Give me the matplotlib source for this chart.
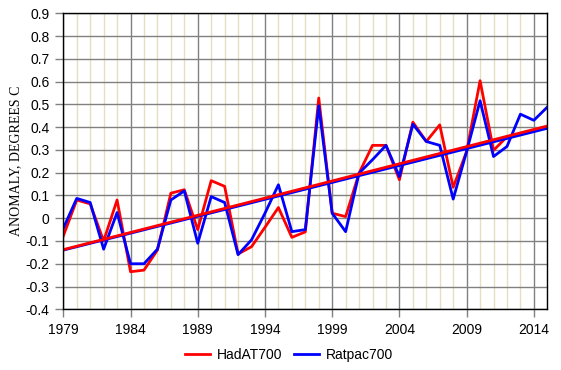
import numpy as np
import matplotlib
matplotlib.use("Agg")
import matplotlib.pyplot as plt
from matplotlib.ticker import MultipleLocator, FixedLocator, FuncFormatter

# anomaly values
years_had = list(range(1979, 2013))
hadat700 = [-0.078, 0.08, 0.063, -0.10, 0.08, -0.235, -0.228, -0.14, 0.11, 0.125,
            -0.05, 0.165, 0.14, -0.157, -0.125, -0.04, 0.047, -0.084, -0.06, 0.528,
            0.022, 0.007, 0.198, 0.32, 0.32, 0.169, 0.422, 0.337, 0.41, 0.136,
            0.293, 0.604, 0.298, 0.358]

years_rat = list(range(1979, 2016))
ratpac700 = [-0.044, 0.087, 0.069, -0.136, 0.025, -0.2, -0.2, -0.136, 0.08, 0.12,
             -0.11, 0.095, 0.069, -0.16, -0.095, 0.022, 0.147, -0.059, -0.05, 0.494,
             0.022, -0.059, 0.198, 0.257, 0.32, 0.183, 0.413, 0.337, 0.32, 0.084,
             0.293, 0.516, 0.271, 0.315, 0.457, 0.43, 0.488]

trend_years = [1979, 2015]
had_trend = [-0.138, 0.405]
rat_trend = [-0.140, 0.395]

xtick_years = list(range(1979, 2015, 5))

fig = plt.figure(figsize=(5.61, 3.70), dpi=100)
ax = fig.add_axes([63.3 / 561, 1 - 309.3 / 370, (547.3 - 63.3) / 561, (309.3 - 13.3) / 370])

ax.set_xlim(1979, 2015)
ax.set_ylim(-0.4, 0.9)
ax.xaxis.set_major_locator(FixedLocator(xtick_years))
ax.xaxis.set_minor_locator(MultipleLocator(1))
ax.yaxis.set_major_locator(MultipleLocator(0.1))
ax.yaxis.set_major_formatter(FuncFormatter(lambda v, p: "0" if abs(v) < 1e-9 else "%.1f" % v))

ax.grid(which="minor", axis="x", color="#e4dfbf", linewidth=1.0)
ax.grid(which="major", axis="x", color="#808080", linewidth=1.0)
ax.grid(which="major", axis="y", color="#808080", linewidth=1.0)
ax.set_axisbelow(True)

ax.tick_params(which="major", direction="out", length=6, color="#808080", width=1,
               labelsize=10, pad=4)
ax.tick_params(which="minor", length=0)
for lab in ax.get_xticklabels() + ax.get_yticklabels():
    lab.set_family("Liberation Sans")
for s in ax.spines.values():
    s.set_color("black")
    s.set_linewidth(1.0)

ax.plot(years_had, hadat700, color="#ff0000", linewidth=2.0, label="HadAT700")
ax.plot(years_rat, ratpac700, color="#0000ff", linewidth=2.0, label="Ratpac700")
ax.plot(trend_years, rat_trend, color="#0000ff", linewidth=2.0)
ax.plot(trend_years, had_trend, color="#ff0000", linewidth=2.0)

ax.set_ylabel("ANOMALY, DEGREES C", family="Liberation Serif", fontsize=10, labelpad=2)

fig.legend(loc="center", bbox_to_anchor=(0.515, 0.04), ncol=2, frameon=False,
           prop={"family": "Liberation Sans", "size": 10}, handlelength=1.8,
           columnspacing=0.8, handletextpad=0.5)

fig.savefig("out.png", dpi=100)
